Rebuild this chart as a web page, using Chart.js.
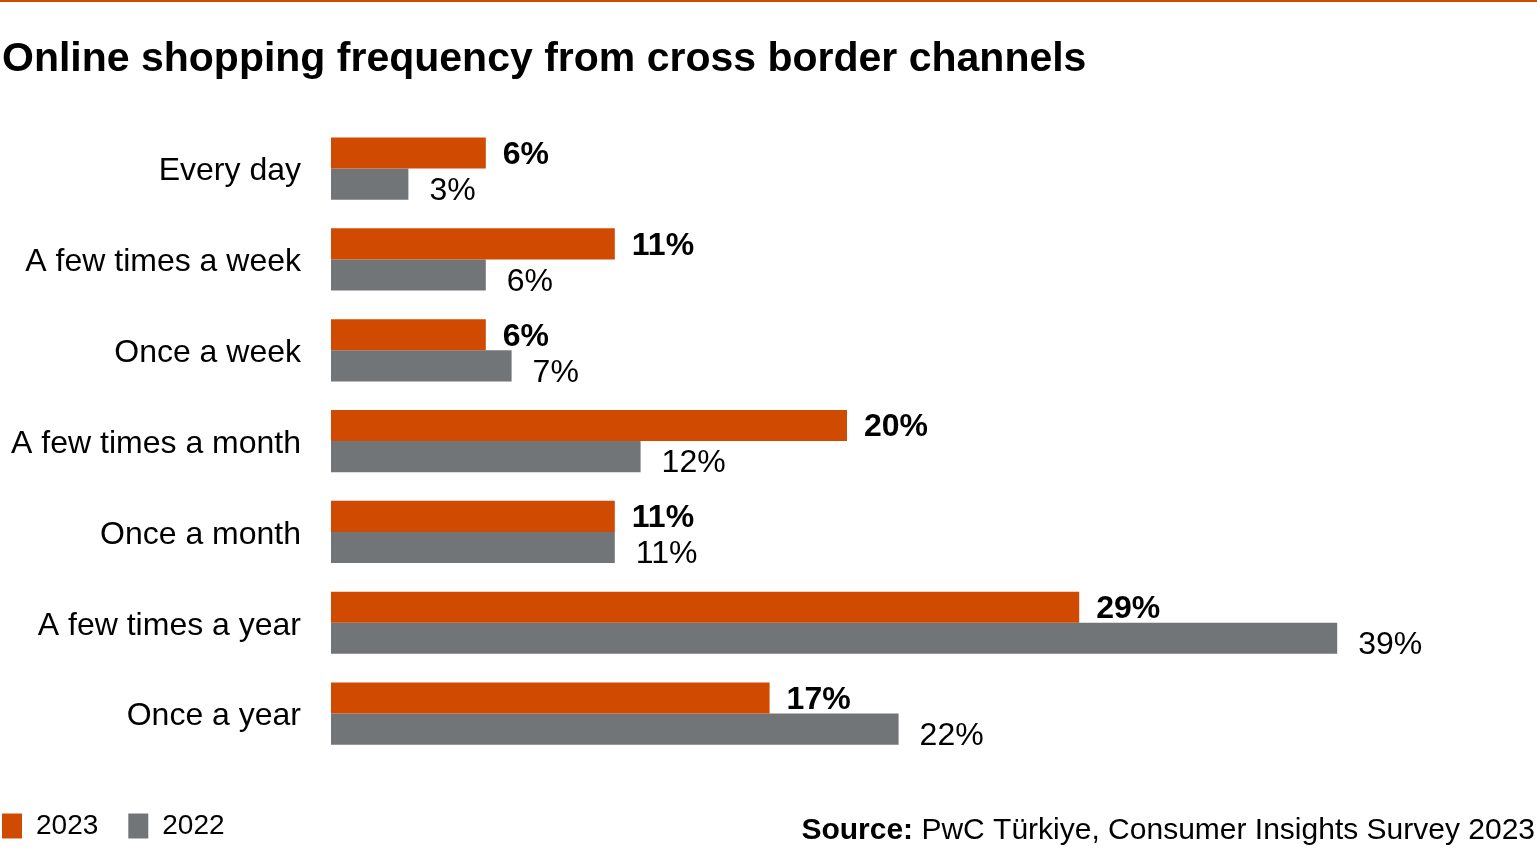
<!DOCTYPE html>
<html>
<head>
<meta charset="utf-8">
<script src="https://cdn.jsdelivr.net/npm/chart.js@4/dist/chart.umd.min.js"></script>
<style>
  html, body { margin: 0; padding: 0; background: #fff; }
  #wrap { position: relative; width: 1537px; height: 851px; }
</style>
</head>
<body>
<div id="wrap"><canvas id="myChart"></canvas></div>
<script>
var categories = ['Every day', 'A few times a week', 'Once a week', 'A few times a month', 'Once a month', 'A few times a year', 'Once a year'];
var values2023 = [6, 11, 6, 20, 11, 29, 17];
var values2022 = [3, 6, 7, 12, 11, 39, 22];
var seriesNames = ['2023', '2022'];

var ORANGE = '#d04a02';
var GREY = '#727578';
var FONT = '"Liberation Sans", Arial, Helvetica, sans-serif';

// value labels next to the bar ends
var barLabels = {
    id: 'barLabels',
    afterDatasetsDraw: function (chart) {
        var ctx = chart.ctx;
        ctx.save();
        ctx.fillStyle = '#000';
        ctx.textAlign = 'left';
        ctx.textBaseline = 'middle';
        chart.data.datasets.forEach(function (ds, i) {
            var meta = chart.getDatasetMeta(i);
            ctx.font = (i === 0 ? 'bold 32px ' : '32px ') + FONT;
            meta.data.forEach(function (bar, j) {
                ctx.fillText(ds.data[j] + '%', bar.x + (i === 0 ? 17 : 21), bar.y + (i === 0 ? 2 : 7));
            });
        });
        ctx.restore();
    }
};

// top rule, source line, legend pulled to the left edge
var frame = {
    id: 'frame',
    afterLayout: function (chart) {
        var lg = chart.legend;
        var pad = lg.options.labels.padding;
        lg.left -= pad;
        lg.right -= pad;
    },
    afterDraw: function (chart) {
        var ctx = chart.ctx;
        ctx.save();
        ctx.fillStyle = ORANGE;
        ctx.fillRect(0, 0, chart.width, 2);
        ctx.fillStyle = '#000';
        ctx.textBaseline = 'alphabetic';
        ctx.textAlign = 'left';
        ctx.font = '30px ' + FONT;
        var rest = ' PwC Türkiye, Consumer Insights Survey 2023';
        var wRest = ctx.measureText(rest).width;
        ctx.font = 'bold 30px ' + FONT;
        var head = 'Source:';
        var wHead = ctx.measureText(head).width;
        var x = chart.width - 2 - wRest - wHead;
        ctx.fillText(head, x, 839);
        ctx.font = '30px ' + FONT;
        ctx.fillText(rest, x + wHead, 839);
        ctx.restore();
    }
};

var ctx = document.getElementById('myChart').getContext('2d');
var chart = new Chart(ctx, {
    type: 'bar',
    data: {
        labels: categories,
        datasets: [{
            label: seriesNames[0],
            data: values2023,
            backgroundColor: ORANGE,
            borderWidth: 0,
            categoryPercentage: 0.685,
            barPercentage: 1
        }, {
            label: seriesNames[1],
            data: values2022,
            backgroundColor: GREY,
            borderWidth: 0,
            categoryPercentage: 0.685,
            barPercentage: 1
        }]
    },
    options: {
        indexAxis: 'y',
        responsive: true,
        maintainAspectRatio: false,
        animation: false,
        layout: { padding: { left: 2, right: 45, top: 0, bottom: 1 } },
        scales: {
            x: {
                min: 0,
                max: 45,
                grid: { display: false, drawTicks: false },
                border: { display: false },
                ticks: { display: false },
                afterFit: function (scale) { scale.height = 23; }
            },
            y: {
                grid: { display: false, drawTicks: false },
                border: { display: false },
                ticks: {
                    color: '#000',
                    padding: 30,
                    labelOffset: 3,
                    font: { family: FONT, size: 32 }
                },
                afterFit: function (scale) { scale.width = 329; }
            }
        },
        plugins: {
            title: {
                display: true,
                text: 'Online shopping frequency from cross border channels',
                align: 'start',
                color: '#000',
                font: { family: FONT, size: 41, weight: 'bold' },
                padding: { top: 35, bottom: 39 }
            },
            legend: {
                position: 'bottom',
                align: 'start',
                labels: {
                    boxWidth: 20,
                    boxHeight: 25,
                    padding: 30,
                    color: '#000',
                    font: { family: FONT, size: 28 }
                }
            },
            tooltip: { enabled: false }
        }
    },
    plugins: [barLabels, frame]
});
</script>
</body>
</html>
